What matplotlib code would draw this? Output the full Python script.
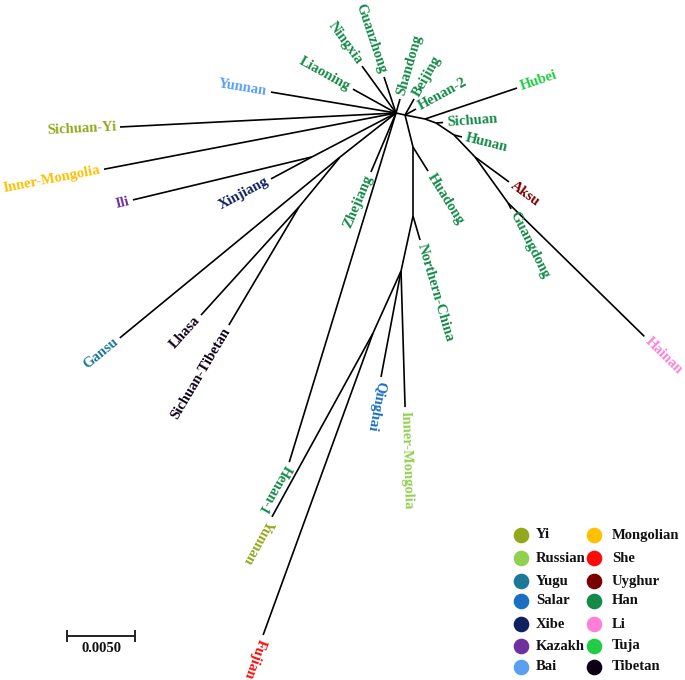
import numpy as np
import matplotlib.pyplot as plt

# Fonte serifada em negrito (parecida com Times New Roman Bold)
plt.rcParams['font.family'] = ['Liberation Serif', 'DejaVu Serif']
plt.rcParams['font.weight'] = 'bold'

# Ramos da arvore nao enraizada: no, pai, comprimento do ramo, angulo (graus)
node_id = ['N1', 'X', 'G', 'T', 'H', 'S', 'Hn', 'Ak', 'Gd', 'HD', 'NC', 'Q', 'HY',
           'Yunnan_B', 'Liaoning', 'Ningxia', 'Guanzhong', 'Shandong', 'Sichuan-Yi',
           'InnerMongolia_M', 'Henan-1', 'Zhejiang', 'Xinjiang', 'Ili', 'Gansu',
           'Lhasa', 'Sichuan-Tibetan', 'Beijing', 'Henan-2', 'Hubei', 'Sichuan',
           'Hunan', 'Aksu', 'Guangdong', 'Hainan', 'Huadong', 'Northern-China',
           'Qinghai', 'InnerMongolia_R', 'Yunnan_Y', 'Fujian']
parent = ['N0', 'N0', 'N0', 'G', 'N1', 'H', 'S', 'Hn', 'Ak', 'N1', 'HD', 'NC', 'Q',
          'N0', 'N0', 'N0', 'N0', 'N0', 'N0',
          'N0', 'N0', 'N0', 'X', 'X', 'G',
          'T', 'T', 'N1', 'N1', 'H', 'S',
          'Hn', 'Ak', 'Gd', 'Gd', 'HD', 'NC',
          'Q', 'Q', 'HY', 'HY']
length = [0.00068, 0.00697, 0.00524, 0.00476, 0.00150, 0.00086, 0.00159, 0.00224,
          0.00416, 0.00243, 0.00507, 0.00414, 0.00500,
          0.00932, 0.00362, 0.00426, 0.00279, 0.00107, 0.02032,
          0.02186, 0.02684, 0.00471, 0.00342, 0.01354, 0.02095,
          0.01072, 0.01009, 0.00135, 0.00092, 0.00714, 0.00052,
          0.00060, 0.00310, 0.00049, 0.01402, 0.00208, 0.00184,
          0.00793, 0.01001, 0.01543, 0.02363]
angle = [-12.5, -152.4, -141.8, -129.4, -11.3, -20.0, -33.7, -46.3, -54.3, -76.0, -90.0,
         -102.3, -114.3,
         170.5, 151.0, 125.9, 108.4, 74.0, -177.1,
         -169.1, -107.0, -113.0, -151.8, -166.5, -140.6,
         -132.2, -120.7, 60.6, 28.6, 18.6, 4.0,
         -14.0, -36.3, -63.4, -44.4, -58.0, -73.7,
         -100.7, -88.3, -118.8, -110.0]

# Rotulos das pontas, grupo etnico e se o texto e invertido (lado esquerdo)
tip_id = ['Yunnan_B', 'Liaoning', 'Ningxia', 'Guanzhong', 'Shandong', 'Sichuan-Yi',
          'InnerMongolia_M', 'Henan-1', 'Zhejiang', 'Xinjiang', 'Ili', 'Gansu',
          'Lhasa', 'Sichuan-Tibetan', 'Beijing', 'Henan-2', 'Hubei', 'Sichuan',
          'Hunan', 'Aksu', 'Guangdong', 'Hainan', 'Huadong', 'Northern-China',
          'Qinghai', 'InnerMongolia_R', 'Yunnan_Y', 'Fujian']
tip_label = ['Yunnan', 'Liaoning', 'Ningxia', 'Guanzhong', 'Shandong', 'Sichuan-Yi',
             'Inner-Mongolia', 'Henan-1', 'Zhejiang', 'Xinjiang', 'Ili', 'Gansu',
             'Lhasa', 'Sichuan-Tibetan', 'Beijing', 'Henan-2', 'Hubei', 'Sichuan',
             'Hunan', 'Aksu', 'Guangdong', 'Hainan', 'Huadong', 'Northern-China',
             'Qinghai', 'Inner-Mongolia', 'Yunnan', 'Fujian']
tip_group = ['Bai', 'Han', 'Han', 'Han', 'Han', 'Yi',
             'Mongolian', 'Han', 'Han', 'Xibe', 'Kazakh', 'Yugu',
             'Tibetan', 'Tibetan', 'Han', 'Han', 'Tuja', 'Han',
             'Han', 'Uyghur', 'Han', 'Li', 'Han', 'Han',
             'Salar', 'Russian', 'Yi', 'She']
tip_flip = [True, True, True, True, False, True,
            True, False, True, True, True, True,
            True, True, False, False, False, False,
            False, False, False, False, False, False,
            False, False, False, False]
# pequenos ajustes de rotacao do texto (graus)
ajuste_rot = {'Henan-1': -13}

# Legenda (duas colunas)
legend_left = ['Yi', 'Russian', 'Yugu', 'Salar', 'Xibe', 'Kazakh', 'Bai']
legend_right = ['Mongolian', 'She', 'Uyghur', 'Han', 'Li', 'Tuja', 'Tibetan']

cores = {'Yi': '#94a81c', 'Russian': '#92d050', 'Yugu': '#1b7896', 'Salar': '#1c6fc0',
         'Xibe': '#0e2262', 'Kazakh': '#7030a0', 'Bai': '#5aa0f2', 'Mongolian': '#ffc000',
         'She': '#ff0a0a', 'Uyghur': '#7a0000', 'Han': '#138a48', 'Li': '#ff80d6',
         'Tuja': '#22cc44', 'Tibetan': '#0e0014'}

escala = 0.005  # barra de escala
px = escala / 68  # tamanho de um pixel em unidades da arvore

# Calcula as posicoes dos nos a partir dos ramos
pos = {'N0': np.array([0.0, 0.0])}
for n, p, L, a in zip(node_id, parent, length, angle):
    r = np.radians(a)
    pos[n] = pos[p] + L * np.array([np.cos(r), np.sin(r)])

fig = plt.figure(figsize=(6.85, 6.80), dpi=100)
ax = fig.add_axes([0, 0, 1, 1])
ax.set_xlim(-396 * px, 289 * px)
ax.set_ylim(-567 * px, 113 * px)
ax.axis('off')

# Desenha os ramos
for n, p in zip(node_id, parent):
    ax.plot([pos[p][0], pos[n][0]], [pos[p][1], pos[n][1]], color='black', lw=1.2,
            solid_capstyle='butt')

# Rotulos das pontas
ang_de = dict(zip(node_id, angle))
for t, lab, g, fl in zip(tip_id, tip_label, tip_group, tip_flip):
    a = ang_de[t]
    r = np.radians(a)
    xy = pos[t] + 4 * px * np.array([np.cos(r), np.sin(r)])
    if fl:
        rot, ha = a + 180, 'right'
    else:
        rot, ha = a, 'left'
    rot += ajuste_rot.get(t, 0)
    ax.text(xy[0], xy[1], lab, color=cores[g], fontsize=10.5, fontweight='bold',
            rotation=rot, rotation_mode='anchor', ha=ha, va='center')

# Legenda manual
linhas_y = [535, 558, 581, 601, 624, 646, 667]
for col, (grupos, xm, xt) in enumerate([(legend_left, 521, 536), (legend_right, 594, 612)]):
    for g, yy in zip(grupos, linhas_y):
        ax.scatter([xm / 685], [1 - yy / 680], s=105, color=cores[g], transform=ax.transAxes,
                   clip_on=False, zorder=3)
        ax.text(xt / 685, 1 - yy / 680, g, transform=ax.transAxes, fontsize=10.5,
                fontweight='bold', color='#111111', ha='left', va='center')

# Barra de escala
x0 = ax.get_xlim()[0] + 67 * px
y0 = ax.get_ylim()[1] - 636 * px
ax.plot([x0, x0 + escala], [y0, y0], color='#222222', lw=1.4)
for xx in [x0, x0 + escala]:
    ax.plot([xx, xx], [y0 - 5 * px, y0 + 5 * px], color='#222222', lw=1.4)
ax.text(x0 + escala / 2, y0 - 13 * px, '0.0050', fontsize=10.5, fontweight='bold',
        ha='center', va='center', color='#111111')

plt.savefig('out.png', dpi=100)
